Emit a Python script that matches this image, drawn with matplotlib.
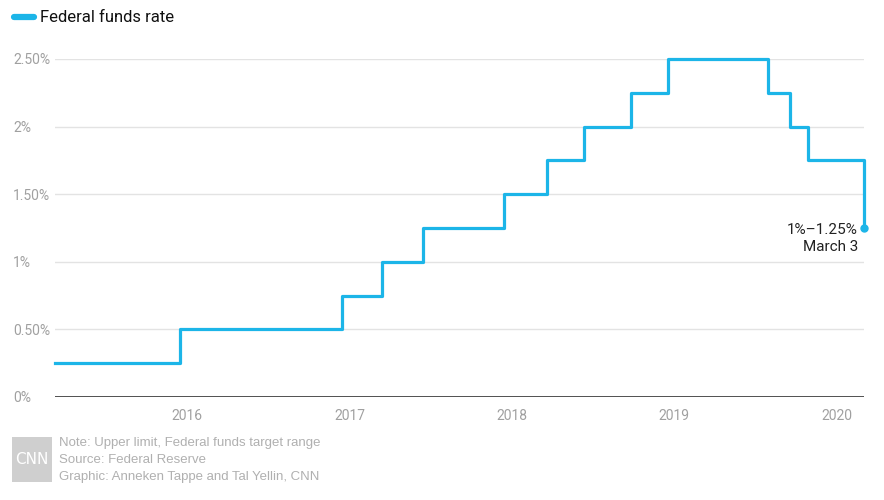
import datetime as dt
import matplotlib
matplotlib.use("Agg")
import matplotlib.pyplot as plt
import matplotlib.patches as patches
from matplotlib import font_manager

# data: upper limit of the federal funds target range
change_dates = ["2015-03-10", "2015-12-16", "2016-12-14", "2017-03-15", "2017-06-14",
                "2017-12-13", "2018-03-21", "2018-06-13", "2018-09-26", "2018-12-19",
                "2019-07-31", "2019-09-18", "2019-10-30", "2020-03-03"]
rates = [0.25, 0.5, 0.75, 1.0, 1.25, 1.5, 1.75, 2.0, 2.25, 2.5, 2.25, 2.0, 1.75, 1.25]
y_ticks = [0, 0.5, 1, 1.5, 2, 2.5]
y_tick_labels = ["0%", "0.50%", "1%", "1.50%", "2%", "2.50%"]
years = [2016, 2017, 2018, 2019, 2020]

names = {f.name for f in font_manager.fontManager.ttflist}
cond = "Liberation Sans Narrow" if "Liberation Sans Narrow" in names else "Roboto"
plt.rcParams['font.family'] = [cond, 'DejaVu Sans']

blue = "#1cb5e8"
dates = [dt.datetime.strptime(d, "%Y-%m-%d") for d in change_dates]

fig = plt.figure(figsize=(8.84, 5.0), dpi=100)
ax = fig.add_axes([55 / 884, 1 - 397 / 500, 809 / 884, 338 / 500])

ax.step(dates, rates, where="post", color=blue, lw=2.3, clip_on=False, zorder=3)
ax.plot(dates[-1], rates[-1], "o", color=blue, ms=5, clip_on=False, zorder=4)

ax.set_xlim(dates[0], dates[-1])
ax.set_ylim(0, 2.5)

for s in ax.spines.values():
    s.set_visible(False)
ax.axhline(0, color="#333333", lw=1.2, zorder=2)
for v in y_ticks[1:]:
    ax.axhline(v, color="#e3e3e3", lw=1, zorder=1)

ax.set_yticks(y_ticks)
ax.set_yticklabels(y_tick_labels)
for lab in ax.get_yticklabels():
    lab.set_horizontalalignment("left")
ax.tick_params(axis="y", length=0, pad=30, labelsize=10, labelcolor="#a0a0a0")

ax.set_xticks([dt.datetime(y, 1, 1) for y in years])
ax.set_xticklabels([str(y) for y in years])
ax.tick_params(axis="x", length=0, pad=9, labelsize=10, labelcolor="#a0a0a0")

# label at the last point
off = matplotlib.transforms.ScaledTranslation(-6 / 100, 5 / 100, fig.dpi_scale_trans)
ax.text(dates[-1], rates[-1], "1%\u20131.25%\nMarch 3", ha="right", va="top",
        fontsize=11, color="#222222", linespacing=1.3,
        transform=ax.transData + off)

# legend
fig.add_artist(plt.Line2D([14 / 884, 34 / 884], [1 - 17 / 500] * 2, color=blue, lw=4.5,
                          solid_capstyle="round"))
fig.text(40 / 884, 1 - 17 / 500, "Federal funds rate", ha="left", va="center",
         fontsize=12, color="#111111")

# footer
fig.add_artist(patches.Rectangle((12 / 884, 1 - 482 / 500), 40 / 884, 45 / 500,
                                 facecolor="#cfcfcf", edgecolor="none", transform=fig.transFigure))
fig.text(32 / 884, 1 - 460 / 500, "CNN", ha="center", va="center", fontsize=11,
         color="white", family="DejaVu Sans")
footer = ["Note: Upper limit, Federal funds target range", "Source: Federal Reserve",
          "Graphic: Anneken Tappe and Tal Yellin, CNN"]
for i, line in enumerate(footer):
    fig.text(59 / 884, 1 - (443 + 17 * i) / 500, line, ha="left", va="center",
             fontsize=9.5, color="#b0b0b0", family=["Liberation Sans", "DejaVu Sans"])

fig.savefig("out.png", dpi=100)
